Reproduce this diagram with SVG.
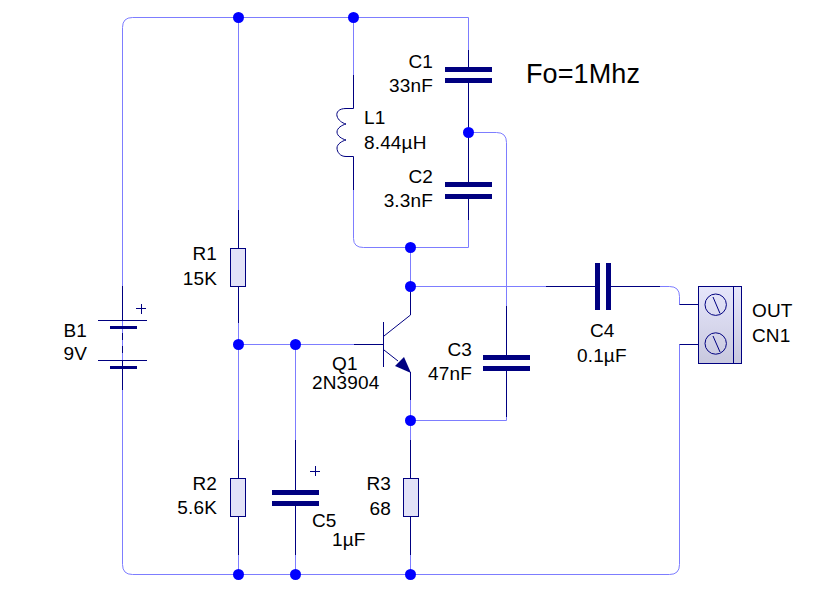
<svg xmlns="http://www.w3.org/2000/svg" width="821" height="593" viewBox="0 0 821 593">
<defs>
<linearGradient id="cg" x1="0" y1="0" x2="0" y2="1"><stop offset="0" stop-color="#e6e6fb"/><stop offset="1" stop-color="#c8c8de"/></linearGradient>
</defs>
<style>
.w{fill:none;stroke:#7d7dff;stroke-width:1}
.d{fill:none;stroke:#000080;stroke-width:1}
.p{fill:none;stroke:#000080;stroke-width:5}
.b{fill:none;stroke:#000080;stroke-width:3}
.r{fill:#e2e2f8;stroke:#000080;stroke-width:1}
.j{fill:#0000ff}
text{font-family:"Liberation Sans",Arial,sans-serif;font-size:19px;letter-spacing:.15px;fill:#000}
.e{text-anchor:end}
</style>
<rect width="821" height="593" fill="#fff"/>
<g id="connectors">
<path class="w" d="M468.500 17.500H132.500Q122.500 17.500 122.500 27.500V564.500Q122.500 574.500 132.500 574.500H669.500Q679.500 574.500 679.500 564.500V344.500"/>
<path class="w" d="M238.500 17.500V210M238.500 323V440M238.500 555V574.500"/>
<path class="w" d="M353.500 17.500V75M353.500 190V238.500Q353.500 247.500 363.500 247.500H468.500V220"/>
<path class="w" d="M468.500 17.500V50"/>
<path class="w" d="M468.500 132.500H496.500Q506.500 132.500 506.500 142.500V306M506.500 417V420.500H410.500"/>
<path class="w" d="M238.500 344.500H354M295.500 344.500V440M295.500 555V574.500"/>
<path class="w" d="M410.500 555V574.500M410.500 247.500V286.500M410.500 400V440"/>
<path class="w" d="M410.500 286.500H546M660 286.500H669.500Q679.500 286.500 679.500 296.500V304.500"/>
</g>
<g id="B1">
<path class="d" d="M122.500 286V320.500M98 320.500H147M122.500 333V340M122.500 346V353M98 360.500H147M122.500 360.500V390M136 308.500H146M141.500 304V314"/>
<path class="b" d="M110 327.500H137M110 367.500H137"/>
<text class="e" x="87" y="337">B1</text><text class="e" x="87" y="360">9V</text>
</g>
<g id="R1">
<path class="d" d="M238.500 210V248M238.500 287V323"/>
<rect class="r" x="230.500" y="248.500" width="15" height="38"/>
<text class="e" x="217" y="260">R1</text><text class="e" x="217" y="285">15K</text>
</g>
<g id="R2">
<path class="d" d="M238.500 440V478M238.500 517V555"/>
<rect class="r" x="230.500" y="478.500" width="15" height="38"/>
<text class="e" x="217" y="490">R2</text><text class="e" x="217" y="514">5.6K</text>
</g>
<g id="R3">
<path class="d" d="M410.500 440V478M410.500 517V555"/>
<rect class="r" x="403.500" y="478.500" width="15" height="38"/>
<text class="e" x="391" y="490">R3</text><text class="e" x="391" y="515">68</text>
</g>
<g id="C5">
<path class="d" d="M295.500 440V492M295.500 503V555M310 471.500H320M315.500 466V476"/>
<path class="p" d="M272 492.500H319M272 503.500H319"/>
<text x="312" y="527">C5</text><text x="332" y="546">1µF</text>
</g>
<g id="C1">
<path class="d" d="M468.500 50V69M468.500 80V132"/>
<path class="p" d="M445 69.500H492M445 80.500H492"/>
<text class="e" x="433" y="68">C1</text><text class="e" x="433" y="92">33nF</text>
</g>
<g id="C2">
<path class="d" d="M468.500 132V184M468.500 196V220"/>
<path class="p" d="M445 184.500H492M445 196.500H492"/>
<text class="e" x="433" y="183">C2</text><text class="e" x="433" y="207">3.3nF</text>
</g>
<g id="C3">
<path class="d" d="M506.500 306V358M506.500 369V417"/>
<path class="p" d="M483 357.500H530M483 368.500H530"/>
<text class="e" x="472" y="356">C3</text><text class="e" x="472" y="380">47nF</text>
</g>
<g id="C4">
<path class="d" d="M546 286.500H597M609 286.500H660"/>
<path class="p" d="M597.500 263V310M608.500 263V310"/>
<text x="590" y="337">C4</text><text x="577" y="362">0.1µF</text>
</g>
<g id="L1">
<path class="d" d="M353.500 75V108.500H346C339 108.500 336 112 337 116C338 120 342 123 346 124C342 125 337 128 337 132C337 136 342 139 346 140C342 141 337 144 337 148C337 152 340 156.500 346 156.500H353.500V190"/>
<text x="364" y="124">L1</text><text x="364" y="149">8.44µH</text>
</g>
<g id="Q1">
<path class="d" d="M354 344.500H384M383.500 322V367M384 336L410.500 315V286.500M384 350L398 361M410.500 372V400"/>
<polygon points="411,373 395,366 404,357" fill="#000080"/>
<text x="332" y="370">Q1</text><text x="312" y="389">2N3904</text>
</g>
<g id="CN1">
<path class="d" d="M679.500 304.500H698M679.500 344.500H698"/>
<rect x="698.500" y="286.500" width="43" height="77" fill="url(#cg)" stroke="#000080"/>
<path class="d" d="M733.500 286.500V363.500"/>
<circle cx="715.700" cy="304.700" r="10.700" fill="none" stroke="#000080"/>
<path class="d" d="M713 297L720 313.500"/>
<circle cx="715.700" cy="343.500" r="10.700" fill="none" stroke="#000080"/>
<path class="d" d="M713 336L720 352"/>
<text x="752" y="317">OUT</text><text x="752" y="342">CN1</text>
</g>
<g id="junctions">
<circle class="j" cx="238.500" cy="17.500" r="5.500"/><circle class="j" cx="353.500" cy="17.500" r="5.500"/>
<circle class="j" cx="468.500" cy="132.500" r="5.500"/><circle class="j" cx="410.500" cy="247.500" r="5.500"/>
<circle class="j" cx="410.500" cy="286.500" r="5.500"/><circle class="j" cx="238.500" cy="344.500" r="5.500"/>
<circle class="j" cx="295.500" cy="344.500" r="5.500"/><circle class="j" cx="410.500" cy="420.500" r="5.500"/>
<circle class="j" cx="238.500" cy="574.500" r="5.500"/><circle class="j" cx="295.500" cy="574.500" r="5.500"/>
<circle class="j" cx="410.500" cy="574.500" r="5.500"/>
</g>
<text x="526" y="83" style="font-size:27px;letter-spacing:.1px">Fo=1Mhz</text>
</svg>
